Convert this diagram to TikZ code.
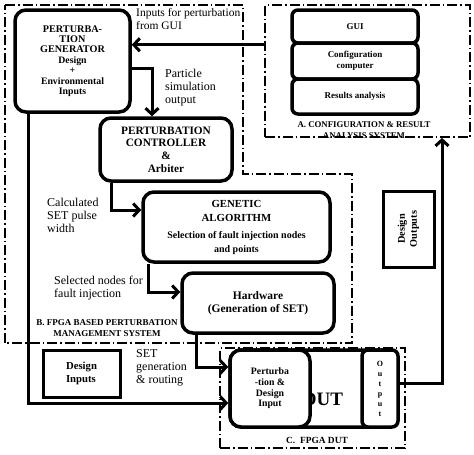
\documentclass[tikz,border=0pt]{standalone}
\usepackage{fontspec}
\setmainfont{Liberation Serif}
\usetikzlibrary{shapes,arrows,arrows.meta,positioning,calc}
\newcommand{\fsmall}{\fontsize{9.8}{10.5}\selectfont}
\newcommand{\fhead}{\fontsize{10.2}{10.4}\selectfont}
\newcommand{\fsel}{\fontsize{10}{11}\selectfont}
\tikzstyle{block} = [rectangle, rounded corners=11pt, draw=black, line width=3.5pt, fill=white, inner sep=2pt, text centered, align=center, font=\bfseries\fontsize{11.3}{12.7}\selectfont]
\tikzstyle{layer} = [rectangle, rounded corners=6pt, draw=black, line width=3.5pt, fill=white, minimum width=126pt, text centered, align=center, font=\bfseries\fontsize{9}{11}\selectfont]
\tikzstyle{plain} = [rectangle, draw=black, line width=3pt, align=center, font=\bfseries\fontsize{10.7}{13}\selectfont]
\tikzstyle{zone} = [rectangle, draw=black, line width=1.8pt, dash pattern=on 10pt off 3pt on 1.5pt off 3pt]
\tikzstyle{note} = [align=left, anchor=north west, inner sep=0pt, font=\fontsize{12}{13}\selectfont]
\tikzstyle{caption} = [align=center, inner sep=0pt, font=\bfseries\fontsize{8.8}{10.3}\selectfont]
\tikzstyle{arrow} = [line width=3pt, ->, >={Straight Barb[length=6pt,width=13pt]}]

\begin{document}
\begin{tikzpicture}[x=1pt, y=-1pt]
        \useasboundingbox (0,0) rectangle (474,455);
        % system boundaries
        \draw[zone] (5,5) -- (243,5) -- (243,174) -- (352,174) -- (352,343) -- (5,343) -- cycle;
        \node (sysA) [zone, minimum width=205pt, minimum height=132pt] at (367.5,71) {};
        \node (sysC) [zone, minimum width=185pt, minimum height=100pt] at (312.5,398) {};
        \node [caption] at (364,130) {A. CONFIGURATION \& RESULT\\ANALYSIS SYSTEM};
        \node [caption, font=\bfseries\fontsize{9}{10.3}\selectfont] at (107,328) {B. FPGA BASED PERTURBATION\\MANAGEMENT SYSTEM};
        \node [caption, font=\bfseries\fontsize{9.4}{11}\selectfont] at (317,440) {C.\ \ FPGA DUT};

        % configuration stack
        \node (gui) [layer, minimum height=33pt] at (355,26.5) {GUI};
        \node (conf) [layer, minimum height=36pt, below=-3.5pt of gui] {Configuration\\computer};
        \node (res) [layer, minimum height=35pt, below=-3.5pt of conf] {Results analysis};

        % perturbation management
        \node (gen) [block, minimum width=115pt, minimum height=102pt, font=\bfseries\fhead] at (72.5,61)
            {PERTURBA-\\TION\\GENERATOR\\\fsmall Design\\\fsmall +\\\fsmall Environmental\\\fsmall Inputs};
        \node (ctrl) [block, minimum width=132pt, minimum height=63pt] at (166,149.5) {PERTURBATION\\CONTROLLER\\\&\\Arbiter};
        \node (ga) [block, minimum width=187pt, minimum height=70pt, font=\bfseries\fontsize{10.8}{14}\selectfont] at (236.5,227)
            {GENETIC\\ALGORITHM\\[3pt]\fsel Selection of fault injection nodes\\\fsel and points};
        \node (hw) [block, minimum width=152pt, minimum height=60pt, font=\bfseries\fontsize{11.5}{13}\selectfont] at (258,303) {Hardware\\(Generation of SET)};

        % side boxes
        \node (dinp) [plain, minimum width=77pt, minimum height=47pt, align=left] at (81.5,373.5) {Design\\Inputs};
        \node (dout) [plain, minimum width=76pt, minimum height=51pt, rotate=90, font=\bfseries\fontsize{10.3}{12}\selectfont] at (408.5,229) {Design\\Outputs};

        % device under test
        \node (dutarea) [block, minimum width=168pt, minimum height=77pt] at (314,388.5) {};
        \node (dut) [font=\bfseries\fontsize{19}{21}\selectfont] at (323,399) {DUT};
        \node (pin) [block, minimum width=80pt, minimum height=77pt, font=\bfseries\fontsize{9.8}{10.7}\selectfont] at (270,388.5) {Perturba\\-tion \&\\Design\\Input};
        \node (outp) [block, rounded corners=6pt, minimum width=36pt, minimum height=77pt, font=\bfseries\fontsize{8}{10}\selectfont] at (380,388.5) {O\\u\\t\\p\\u\\t};

        % connections
        \draw[arrow] (sysA.west |- gui.south) -- (gen.east |- gui.south);
        \draw[arrow] ([yshift=-7pt]gen.east) -| ([xshift=-14pt]ctrl.north);
        \draw[arrow] ([xshift=13pt]ctrl.south west) |- ([yshift=17pt]ga.west);
        \draw[arrow] ([xshift=7pt]ga.south west) |- ([yshift=11pt]hw.west);
        \draw[arrow] ([xshift=16pt]hw.south west) |- ([yshift=21.5pt]pin.west);
        \draw[arrow] ([xshift=15pt]gen.south west) |- ([yshift=-14.5pt]pin.west);
        \draw[arrow] ([yshift=5.5pt]outp.east) -| ([xshift=74.5pt]sysA.south);

        % connector labels
        \node [note, font=\fontsize{11.5}{13}\selectfont] at (136,8) {Inputs for perturbation\\from GUI};
        \node [note] at (165,69) {Particle\\simulation\\output};
        \node [note] at (47,198) {Calculated\\SET pulse\\width};
        \node [note] at (54,276) {Selected nodes for\\fault injection};
        \node [note] at (136,349) {SET\\generation\\\& routing};
    \end{tikzpicture}
\end{document}
